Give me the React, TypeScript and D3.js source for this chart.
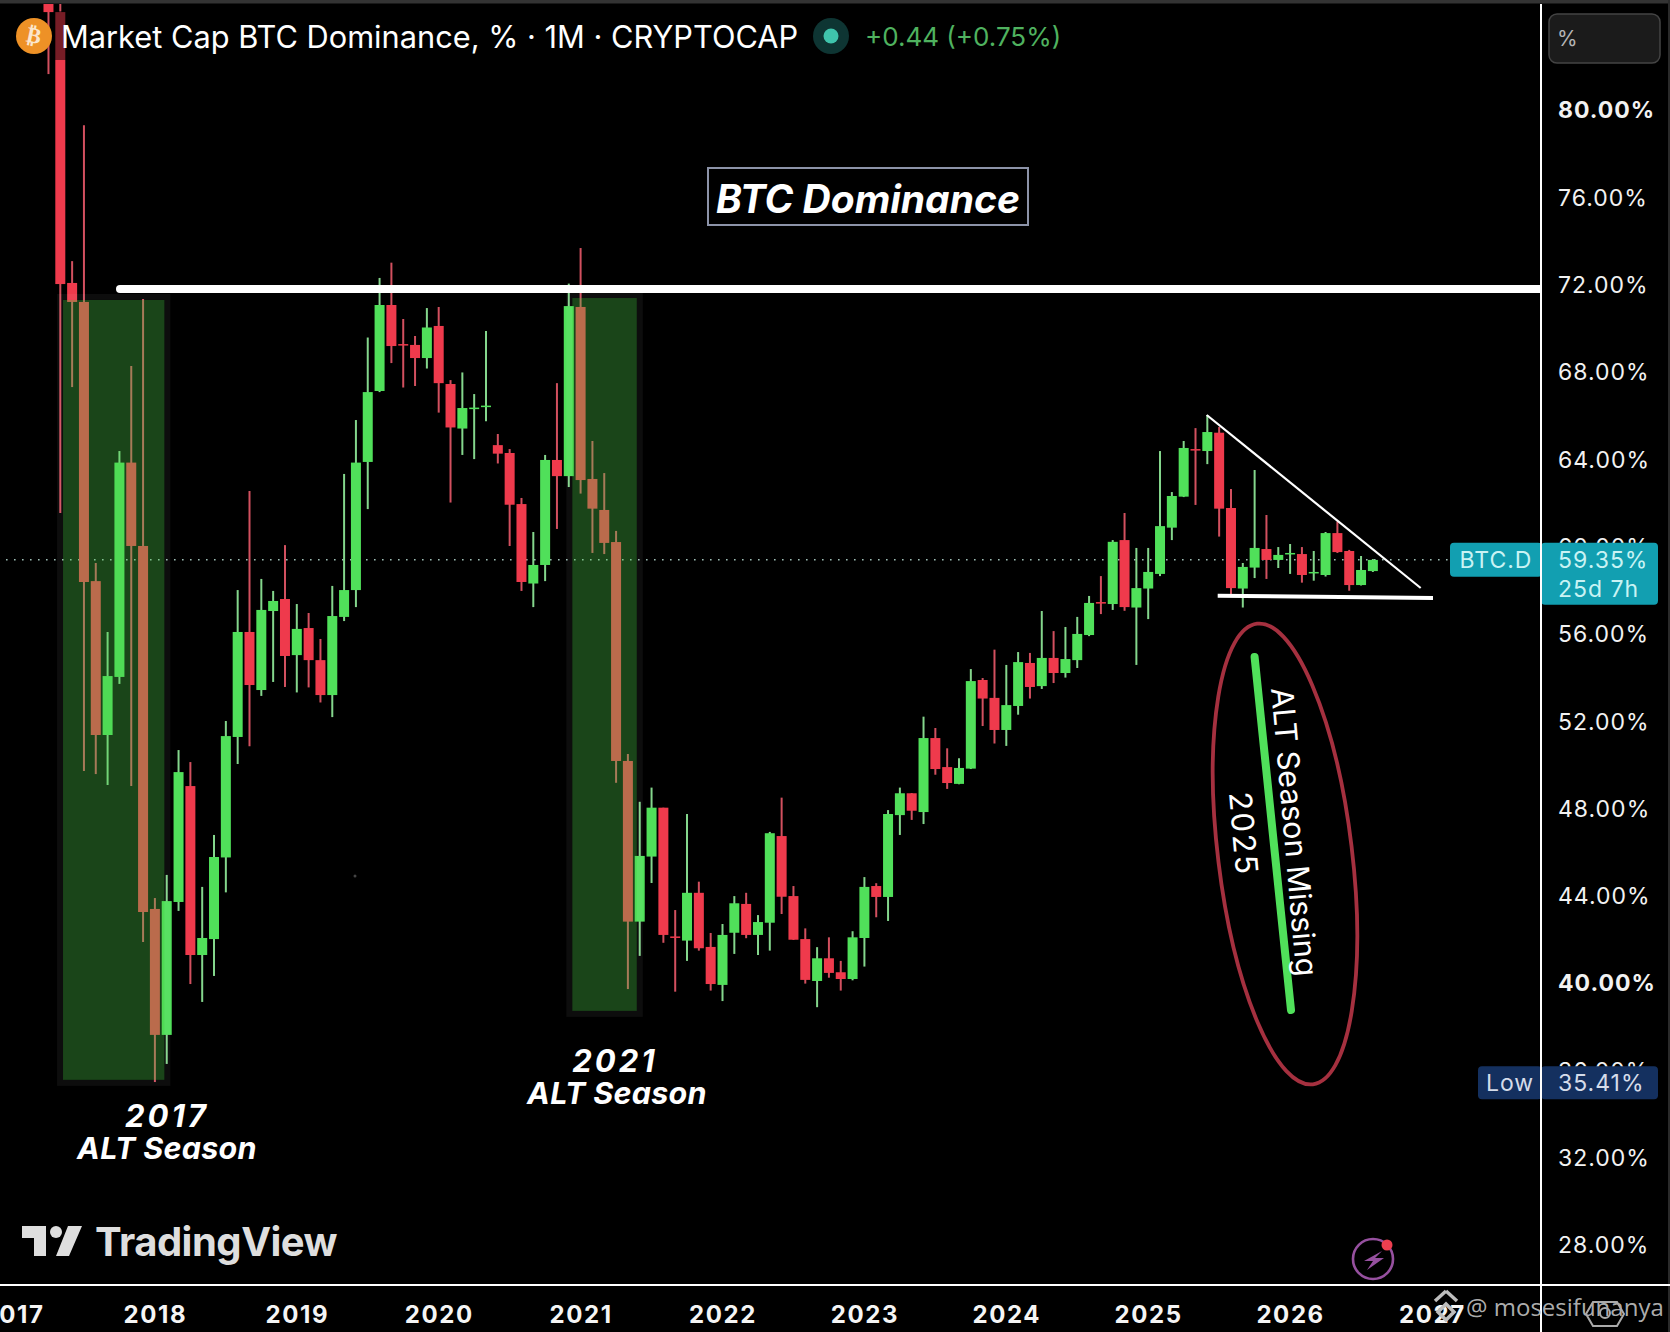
import React, { useEffect, useRef } from 'react';
import * as d3 from 'd3';

// monthly candles, first one is Apr 2017 (month 3 counted from Jan 2017)
const firstMonth = 3;

const opens = [
  84.81, 84.44, 72.03, 71.16, 58.37, 51.32, 53.98, 63.8, 59.98,
  43.35, 37.58, 43.67, 48.98, 41.24, 41.97, 45.71, 51.23, 56.04, 53.38, 57.0, 57.55,
  54.98, 56.22, 54.75, 53.15, 56.73, 57.96, 63.83, 67.08, 71.02, 69.23, 69.19, 68.59,
  70.06, 67.4, 65.36, 66.25, 66.37, 64.6, 64.24, 61.9, 58.26, 59.11, 63.92, 63.18,
  70.93, 63.05, 61.63, 60.16, 50.13, 42.77, 45.75, 47.99, 42.09, 41.9, 44.09, 41.61,
  39.87, 42.26, 43.58, 42.16, 42.72, 46.69, 43.94, 41.97, 40.05, 41.09, 40.45, 40.14,
  42.02, 44.4, 43.9, 47.65, 48.65, 47.79, 51.18, 49.85, 49.08, 49.78, 53.84, 53.02,
  51.55, 52.65, 54.62, 53.56, 54.85, 54.16, 54.75, 55.9, 57.41, 57.32, 60.25, 57.16,
  58.03, 58.7, 60.82, 62.24, 64.42, 64.33, 65.17, 61.72, 58.03, 58.99, 59.84, 59.34,
  59.61, 59.61, 58.74, 58.65, 60.57, 59.75, 58.19, 58.83,
];
const highs = [
  85.2, 84.81, 73.03, 79.26, 59.2, 56.04, 64.33, 68.22, 71.29,
  43.85, 44.91, 50.63, 50.08, 44.36, 46.74, 51.96, 57.96, 62.5, 58.47, 57.92, 60.02,
  57.32, 56.91, 55.72, 58.15, 63.28, 65.75, 69.53, 72.26, 72.96, 70.38, 69.6, 70.88,
  70.93, 67.58, 67.93, 66.94, 69.83, 65.11, 64.42, 62.18, 60.62, 64.15, 67.44, 72.0,
  73.63, 64.79, 63.32, 60.67, 50.45, 48.26, 48.91, 47.99, 43.3, 47.7, 44.6, 42.25,
  42.66, 43.94, 44.09, 43.07, 46.88, 48.45, 44.4, 42.46, 41.6, 42.05, 40.97, 42.33,
  44.81, 44.53, 47.88, 48.91, 48.66, 52.16, 51.64, 50.71, 50.25, 54.34, 53.93, 55.23,
  54.53, 55.12, 55.08, 57.0, 56.08, 56.27, 56.73, 57.69, 58.6, 60.25, 61.49, 59.89,
  59.89, 64.33, 62.45, 64.79, 65.38, 65.98, 65.43, 62.59, 59.2, 63.46, 61.4, 59.93,
  60.07, 59.93, 59.75, 60.62, 61.1, 59.8, 59.52, 59.38,
];
const lows = [
  81.6, 61.49, 67.26, 49.67, 49.53, 49.03, 53.66, 48.98, 41.84,
  35.42, 36.25, 43.26, 39.91, 39.09, 40.28, 44.11, 49.99, 50.81, 53.11, 53.75, 53.52,
  53.27, 53.5, 52.81, 52.14, 56.54, 57.18, 61.67, 67.03, 68.36, 67.24, 67.31, 68.11,
  66.09, 61.97, 64.15, 63.96, 65.7, 63.76, 59.98, 57.92, 57.18, 58.37, 60.76, 62.68,
  62.38, 59.66, 59.61, 49.13, 39.68, 41.2, 44.54, 41.8, 39.56, 40.97, 41.44, 39.61,
  39.13, 41.29, 42.01, 41.24, 41.44, 43.12, 41.93, 39.93, 38.85, 40.2, 39.61, 40.08,
  40.71, 42.97, 42.8, 46.74, 47.43, 47.24, 49.5, 48.85, 49.06, 49.76, 51.73, 50.93,
  50.82, 52.25, 52.99, 53.43, 53.7, 53.95, 54.39, 55.85, 56.86, 57.05, 57.01, 54.53,
  56.63, 58.6, 60.25, 62.22, 61.86, 63.73, 60.41, 57.78, 57.16, 58.51, 58.47, 58.97,
  58.7, 58.3, 58.39, 58.58, 59.66, 57.93, 58.17, 58.79,
];
const closes = [
  84.44, 71.98, 71.16, 58.33, 51.32, 54.02, 63.8, 59.98, 43.21,
  37.58, 43.71, 49.62, 41.24, 42.02, 45.73, 51.27, 56.04, 53.61, 57.05, 57.46, 54.94,
  56.18, 54.75, 53.15, 56.77, 57.96, 63.8, 67.03, 71.02, 69.14, 69.19, 68.59, 69.99,
  67.44, 65.41, 66.3, 66.32, 66.41, 64.21, 61.87, 58.33, 59.11, 63.92, 63.18, 70.97,
  63.0, 61.69, 60.12, 50.13, 42.77, 45.78, 47.99, 42.16, 42.04, 44.09, 41.55, 39.91,
  42.16, 43.61, 42.16, 42.75, 46.82, 43.91, 41.94, 40.1, 41.09, 40.42, 40.14, 42.05,
  44.36, 43.9, 47.7, 48.65, 47.85, 51.18, 49.76, 49.12, 49.81, 53.79, 52.99, 51.55,
  52.69, 54.66, 53.52, 54.85, 54.16, 54.8, 55.95, 57.37, 57.34, 60.17, 57.18, 58.05,
  58.79, 60.89, 62.27, 64.47, 64.38, 65.2, 61.69, 58.05, 59.02, 59.89, 59.34, 59.57,
  59.66, 58.65, 58.79, 60.57, 59.7, 58.19, 58.88, 59.34,
];

const priceTicks = [80, 76, 72, 68, 64, 60, 56, 52, 48, 44, 40, 36, 32, 28];
const boldPrices = [80, 40];
const years = [2017, 2018, 2019, 2020, 2021, 2022, 2023, 2024, 2025, 2026, 2027];

const lastPrice = 59.35;
const lowPrice = 35.41;
const resistance = 71.75;

// green boxes: [from month, to month, top %, bottom %]
const seasonBoxes = [
  [4.23, 12.8, 71.25, 35.52],
  [47.3, 52.75, 71.34, 38.68],
];

const App: React.FC = () => {
  const width = 1670;
  const height = 1332;
  const axisX = 1541;
  const axisY = 1285;
  const svgRef = useRef<SVGSVGElement>(null);

  useEffect(() => {
    if (!svgRef.current) return;

    const svg = d3.select(svgRef.current);
    svg.selectAll('*').remove();

    const x = d3.scaleLinear().domain([0, 120]).range([13, 1432]);
    const y = d3.scaleLinear().domain([80, 28]).range([109, 1244]);

    const red = '#ef3a4c';
    const green = '#50e05a';
    const redWick = '#d2505f';
    const greenWick = '#84d68c';
    const ui = 'Inter, "Noto Sans", sans-serif';

    svg.append('rect').attr('width', width).attr('height', height).attr('fill', '#000');
    svg.append('rect').attr('width', width).attr('height', 3.5).attr('fill', '#333');
    svg.append('rect').attr('x', 1668).attr('width', 2).attr('height', height).attr('fill', '#2a2a2a');

    svg.append('clipPath').attr('id', 'plot')
      .append('rect').attr('x', 0).attr('y', 4).attr('width', axisX).attr('height', axisY - 4);

    const plot = svg.append('g').attr('clip-path', 'url(#plot)');

    // last price dotted line
    plot.append('line')
      .attr('x1', 6).attr('x2', axisX)
      .attr('y1', y(lastPrice)).attr('y2', y(lastPrice))
      .attr('stroke', '#9dbdb4').attr('stroke-width', 1.6)
      .attr('stroke-dasharray', '1.6 6.4');

    opens.forEach((open, i) => {
      const close = closes[i];
      const cx = x(firstMonth + i);
      const up = close >= open;
      plot.append('line')
        .attr('x1', cx).attr('x2', cx)
        .attr('y1', y(highs[i])).attr('y2', y(lows[i]))
        .attr('stroke', up ? greenWick : redWick)
        .attr('stroke-width', 2);
      const top = y(Math.max(open, close));
      const h = Math.max(Math.abs(y(open) - y(close)), 1.5);
      plot.append('rect')
        .attr('x', cx - 5).attr('width', 10)
        .attr('y', top).attr('height', h)
        .attr('fill', up ? green : red);
    });

    // alt season boxes go on top of the candles, that's what turns the reds brown
    seasonBoxes.forEach(([m0, m1, top, bottom]) => {
      plot.append('rect')
        .attr('x', x(m0) - 3).attr('y', y(top) - 3)
        .attr('width', x(m1) - x(m0) + 6).attr('height', y(bottom) - y(top) + 6)
        .attr('fill', 'none')
        .attr('stroke', '#fff').attr('stroke-opacity', 0.05).attr('stroke-width', 6);
      plot.append('rect')
        .attr('x', x(m0)).attr('y', y(top))
        .attr('width', x(m1) - x(m0)).attr('height', y(bottom) - y(top))
        .attr('fill', 'rgb(79,209,76)').attr('fill-opacity', 0.33);
    });

    plot.append('circle').attr('cx', 355).attr('cy', 876).attr('r', 1.5).attr('fill', '#444');

    // resistance
    plot.append('line')
      .attr('x1', 120).attr('x2', axisX + 4)
      .attr('y1', y(resistance)).attr('y2', y(resistance))
      .attr('stroke', '#fff').attr('stroke-width', 8).attr('stroke-linecap', 'round');

    // triangle
    plot.append('line')
      .attr('x1', 1206.7).attr('y1', 415).attr('x2', 1420.7).attr('y2', 588)
      .attr('stroke', '#fff').attr('stroke-width', 2.2);
    plot.append('line')
      .attr('x1', 1217.7).attr('y1', 595.7).attr('x2', 1433).attr('y2', 598)
      .attr('stroke', '#fff').attr('stroke-width', 4);

    // missing alt season ellipse
    plot.append('ellipse')
      .attr('cx', 0).attr('cy', 0).attr('rx', 67).attr('ry', 232)
      .attr('transform', 'translate(1285,854) rotate(-6.9)')
      .attr('fill', 'none').attr('stroke', '#a5303f').attr('stroke-width', 3.8);
    plot.append('line')
      .attr('x1', 1254.6).attr('y1', 657).attr('x2', 1291).attr('y2', 1010)
      .attr('stroke', green).attr('stroke-width', 8).attr('stroke-linecap', 'round');
    plot.append('text')
      .attr('transform', 'translate(1292,832) rotate(85)')
      .attr('text-anchor', 'middle').attr('dominant-baseline', 'middle')
      .attr('font-family', ui).attr('font-size', 30.4).attr('fill', '#fff')
      .text('ALT Season Missing');
    plot.append('text')
      .attr('transform', 'translate(1241,834) rotate(85)')
      .attr('text-anchor', 'middle').attr('dominant-baseline', 'middle')
      .attr('font-family', ui).attr('font-size', 31).attr('letter-spacing', 2).attr('fill', '#fff')
      .text('2025');

    const bi = (t: string, px: number, py: number, size: number) =>
      svg.append('text')
        .attr('x', px).attr('y', py)
        .attr('text-anchor', 'middle').attr('dominant-baseline', 'middle')
        .attr('font-family', ui).attr('font-size', size)
        .attr('font-weight', 700).attr('font-style', 'italic')
        .attr('fill', '#fff').text(t);

    bi('2017', 167, 1119, 31).attr('letter-spacing', 3);
    bi('ALT Season', 167, 1151, 30.5).attr('letter-spacing', 0.3);
    bi('2021', 615, 1064, 31).attr('letter-spacing', 3);
    bi('ALT Season', 617, 1096, 30.5).attr('letter-spacing', 0.3);

    svg.append('rect')
      .attr('x', 708).attr('y', 168).attr('width', 320).attr('height', 57)
      .attr('fill', '#000').attr('stroke', '#8c93a8').attr('stroke-width', 2);
    bi('BTC Dominance', 868, 202, 39);

    // legend backing dims the top of the May 2017 candle
    svg.append('rect')
      .attr('x', 55).attr('y', 11).attr('width', 1010).attr('height', 49)
      .attr('fill', '#000').attr('fill-opacity', 0.5);
    svg.append('circle').attr('cx', 34).attr('cy', 36).attr('r', 18).attr('fill', '#ee9126');
    svg.append('text')
      .attr('x', 34).attr('y', 37)
      .attr('text-anchor', 'middle').attr('dominant-baseline', 'middle')
      .attr('font-family', '"DejaVu Sans"').attr('font-weight', 700)
      .attr('font-size', 22).attr('fill', '#fbe6cc')
      .attr('transform', 'rotate(12 34 36)')
      .text('₿');
    svg.append('text')
      .attr('x', 61).attr('y', 48)
      .attr('font-family', ui).attr('font-size', 30.75).attr('fill', '#fff')
      .text('Market Cap BTC Dominance, % · 1M · CRYPTOCAP');
    svg.append('circle').attr('cx', 831).attr('cy', 36).attr('r', 18).attr('fill', '#0e3533');
    svg.append('circle').attr('cx', 831).attr('cy', 36).attr('r', 7.5).attr('fill', '#3fc4ac');
    svg.append('text')
      .attr('x', 865).attr('y', 46)
      .attr('font-family', ui).attr('font-size', 26).attr('fill', '#4fb25f')
      .text('+0.44 (+0.75%)');

    // right axis
    const yAxis = d3.axisRight(y)
      .tickValues(priceTicks)
      .tickSize(0)
      .tickPadding(17)
      .tickFormat(d => `${(d as number).toFixed(2)}%`);
    const yG = svg.append('g').attr('transform', `translate(${axisX},1.5)`).call(yAxis);
    yG.select('.domain').remove();
    yG.selectAll<SVGTextElement, number>('text')
      .attr('font-family', ui).attr('font-size', 23).attr('letter-spacing', 1)
      .attr('fill', '#f2f2f2')
      .attr('font-weight', d => (boldPrices.includes(d) ? 700 : 400));

    // bottom axis
    const xAxis = d3.axisBottom(x)
      .tickValues(years.map((_, i) => i * 12))
      .tickSize(0)
      .tickPadding(21)
      .tickFormat((_, i) => String(years[i]));
    const xG = svg.append('g').attr('transform', `translate(0,${axisY})`).call(xAxis);
    xG.select('.domain').remove();
    xG.selectAll('text')
      .attr('font-family', ui).attr('font-size', 24).attr('font-weight', 700)
      .attr('letter-spacing', 1.6).attr('fill', '#f5f5f5');

    svg.append('line').attr('x1', 0).attr('x2', width).attr('y1', axisY).attr('y2', axisY)
      .attr('stroke', '#fff').attr('stroke-width', 2);
    svg.append('line').attr('x1', axisX).attr('x2', axisX).attr('y1', 4).attr('y2', height)
      .attr('stroke', '#fff').attr('stroke-width', 2);

    // scale mode box
    svg.append('rect')
      .attr('x', 1549).attr('y', 14).attr('width', 111).attr('height', 49).attr('rx', 8)
      .attr('fill', '#1b1b1b').attr('stroke', '#444').attr('stroke-width', 1.5);
    svg.append('text')
      .attr('x', 1557).attr('y', 46)
      .attr('font-family', ui).attr('font-size', 21).attr('fill', '#b5b5b5')
      .text('%');

    // price tags
    const tag = (tx: number, ty: number, w: number, h: number, fill: string) =>
      svg.append('rect')
        .attr('x', tx).attr('y', ty).attr('width', w).attr('height', h).attr('rx', 4)
        .attr('fill', fill);
    const tagText = (t: string, tx: number, ty: number, fill: string, anchor = 'start') =>
      svg.append('text')
        .attr('x', tx).attr('y', ty)
        .attr('text-anchor', anchor).attr('dominant-baseline', 'middle')
        .attr('font-family', ui).attr('font-size', 23).attr('letter-spacing', 1)
        .attr('fill', fill).text(t);

    const teal = '#129fb1';
    const tealText = '#c9f3f4';
    const ly = y(lastPrice);
    tag(1450, ly - 17, 92, 34, teal);
    tag(1541, ly - 17, 117, 62, teal);
    tagText('BTC.D', 1496, ly + 2, tealText, 'middle');
    tagText(`${lastPrice.toFixed(2)}%`, 1558, ly + 2, tealText);
    tagText('25d 7h', 1558, ly + 31, tealText);

    const navy = '#14305f';
    const navyText = '#d5dcea';
    const lo = y(lowPrice);
    tag(1478, lo - 16, 64, 33, navy);
    tag(1541, lo - 16, 117, 33, navy);
    tagText('Low', 1510, lo + 2, navyText, 'middle');
    tagText(`${lowPrice.toFixed(2)}%`, 1558, lo + 2, navyText);

    svg.append('line').attr('x1', axisX).attr('x2', axisX).attr('y1', 500).attr('y2', 1110)
      .attr('stroke', '#fff').attr('stroke-width', 2);

    // TradingView mark
    svg.append('path')
      .attr('d', 'M22 1226H46V1256H34V1238H22Z M68 1226H82L69 1256H56Z')
      .attr('fill', '#dedede');
    svg.append('circle').attr('cx', 56).attr('cy', 1232).attr('r', 6).attr('fill', '#dedede');
    svg.append('text')
      .attr('x', 95).attr('y', 1256)
      .attr('font-family', ui).attr('font-size', 40).attr('font-weight', 700)
      .attr('letter-spacing', -0.5).attr('fill', '#dedede')
      .text('TradingView');

    // lightning badge
    svg.append('circle').attr('cx', 1373).attr('cy', 1259).attr('r', 20)
      .attr('fill', 'none').attr('stroke', '#96509f').attr('stroke-width', 2.6);
    svg.append('path')
      .attr('d', 'M1382 1251L1364 1261H1373L1367 1270L1384 1258H1375Z')
      .attr('fill', '#96509f');
    svg.append('circle').attr('cx', 1387).attr('cy', 1245).attr('r', 5.5).attr('fill', '#ee3f50');

    // site watermark
    svg.append('path')
      .attr('d', 'M1446 1291L1457 1301M1446 1291L1435 1301M1446 1304L1454 1312L1446 1320L1438 1312Z')
      .attr('fill', 'none').attr('stroke', '#bdbdbd').attr('stroke-width', 3.5);
    svg.append('text')
      .attr('x', 1466).attr('y', 1316)
      .attr('font-family', '"Open Sans", sans-serif').attr('font-size', 24)
      .attr('fill', '#c4c4c4').attr('fill-opacity', 0.9)
      .text('@ mosesifunanya');
    svg.append('path')
      .attr('d', 'M1593 1302H1617L1624 1314L1617 1326H1593L1586 1314Z')
      .attr('fill', 'none').attr('stroke', '#aaa').attr('stroke-width', 2);
    svg.append('circle').attr('cx', 1605).attr('cy', 1313).attr('r', 5)
      .attr('fill', 'none').attr('stroke', '#aaa').attr('stroke-width', 2);
  }, []);

  return (
    <svg
      ref={svgRef}
      width={width}
      height={height}
      style={{ position: 'absolute', left: 0, top: 0, display: 'block' }}
    />
  );
};

export default App;
